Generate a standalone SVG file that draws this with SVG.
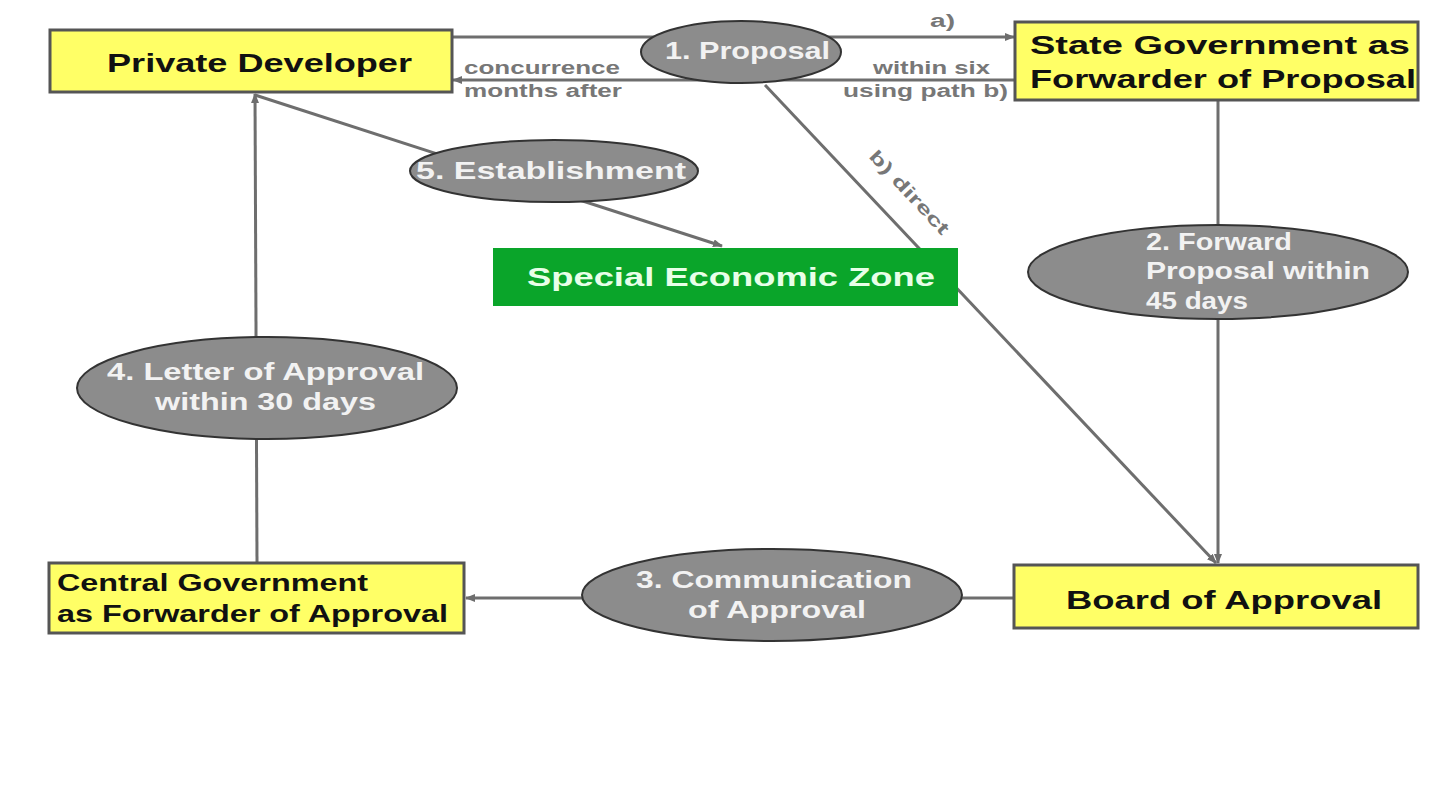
<svg xmlns="http://www.w3.org/2000/svg" width="1436" height="786" viewBox="0 0 1436 786">
<style>
.box{fill:#ffff66;stroke:#555;stroke-width:3}
.ell{fill:#8c8c8c;stroke:#333;stroke-width:2}
.c{stroke:#6e6e6e;stroke-width:3;fill:none;marker-end:url(#ah)}
text{font-family:"Liberation Sans",Arial,sans-serif;font-weight:bold}
.bt{font-size:25px;fill:#111}
.et{font-size:23px;fill:#f2f2f2}
.lt{font-size:18px;fill:#777}
</style>
<defs><marker id="ah" markerWidth="10" markerHeight="8" refX="9" refY="4" orient="auto" markerUnits="userSpaceOnUse"><path d="M0,0 L10,4 L0,8 z" fill="#6e6e6e"/></marker></defs>
<rect width="1436" height="786" fill="#fff"/>
<g id="connectors">
<line class="c" x1="452" y1="37" x2="1014" y2="37"/>
<line class="c" x1="1015" y1="80" x2="453" y2="80"/>
<line class="c" x1="765" y1="85" x2="1216" y2="563"/>
<line class="c" x1="1218" y1="100" x2="1218" y2="563"/>
<line class="c" x1="1014" y1="598" x2="466" y2="598"/>
<line class="c" x1="257" y1="563" x2="255" y2="94"/>
<line class="c" x1="255" y1="95" x2="722" y2="246"/>
<text class="lt" x="930" y="27" textLength="25" lengthAdjust="spacingAndGlyphs">a)</text>
<text class="lt" x="464" y="74" textLength="156" lengthAdjust="spacingAndGlyphs">concurrence</text>
<text class="lt" x="464" y="97" textLength="158" lengthAdjust="spacingAndGlyphs">months after</text>
<text class="lt" x="873" y="74" textLength="117" lengthAdjust="spacingAndGlyphs">within six</text>
<text class="lt" x="843" y="97" textLength="165" lengthAdjust="spacingAndGlyphs">using path b)</text>
<text class="lt" x="0" y="0" transform="translate(868,157) rotate(47)" textLength="108" lengthAdjust="spacingAndGlyphs">b) direct</text>
</g>
<g id="private-developer"><rect class="box" x="50" y="30" width="402" height="62"/><text class="bt" x="107" y="72" textLength="305" lengthAdjust="spacingAndGlyphs">Private Developer</text></g>
<g id="state-government"><rect class="box" x="1015" y="22" width="403" height="78"/><text class="bt" x="1030" y="54" textLength="380" lengthAdjust="spacingAndGlyphs">State Government as</text><text class="bt" x="1030" y="88" textLength="386" lengthAdjust="spacingAndGlyphs">Forwarder of Proposal</text></g>
<g id="sez"><rect x="493" y="248" width="465" height="58" fill="#0aa52a"/><text x="527" y="286" textLength="408" lengthAdjust="spacingAndGlyphs" style="font-size:26px;fill:#e8ffe8">Special Economic Zone</text></g>
<g id="board"><rect class="box" x="1014" y="565" width="404" height="63"/><text class="bt" x="1066" y="609" textLength="316" lengthAdjust="spacingAndGlyphs">Board of Approval</text></g>
<g id="central"><rect class="box" x="49" y="563" width="415" height="70"/><text class="bt" x="57" y="591" style="font-size:23px" textLength="311" lengthAdjust="spacingAndGlyphs">Central Government</text><text class="bt" x="57" y="622" style="font-size:23px" textLength="391" lengthAdjust="spacingAndGlyphs">as Forwarder of Approval</text></g>
<g id="proposal"><ellipse class="ell" cx="741" cy="52" rx="100" ry="31"/><text class="et" x="665" y="59" textLength="165" lengthAdjust="spacingAndGlyphs">1. Proposal</text></g>
<g id="establishment"><ellipse class="ell" cx="554" cy="171" rx="144" ry="31"/><text class="et" x="416" y="179" textLength="270" lengthAdjust="spacingAndGlyphs">5. Establishment</text></g>
<g id="forward"><ellipse class="ell" cx="1218" cy="272" rx="190" ry="47"/><text class="et" x="1146" y="250" textLength="146" lengthAdjust="spacingAndGlyphs">2. Forward</text><text class="et" x="1146" y="279" textLength="224" lengthAdjust="spacingAndGlyphs">Proposal within</text><text class="et" x="1146" y="309" textLength="102" lengthAdjust="spacingAndGlyphs">45 days</text></g>
<g id="letter"><ellipse class="ell" cx="267" cy="388" rx="190" ry="51"/><text class="et" x="107" y="380" textLength="317" lengthAdjust="spacingAndGlyphs">4. Letter of Approval</text><text class="et" x="155" y="410" textLength="221" lengthAdjust="spacingAndGlyphs">within 30 days</text></g>
<g id="communication"><ellipse class="ell" cx="772" cy="595" rx="190" ry="46"/><text class="et" x="636" y="588" textLength="276" lengthAdjust="spacingAndGlyphs">3. Communication</text><text class="et" x="688" y="618" textLength="178" lengthAdjust="spacingAndGlyphs">of Approval</text></g>
</svg>
